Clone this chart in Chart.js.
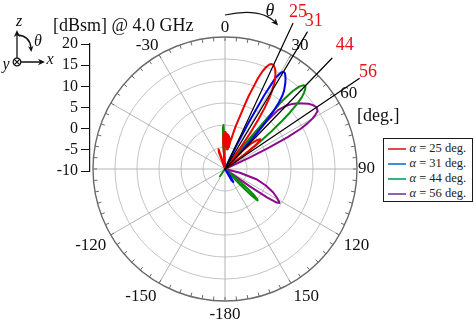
<!DOCTYPE html>
<html>
<head>
<meta charset="utf-8">
<title>Monostatic RCS pattern</title>
<script src="https://cdn.jsdelivr.net/npm/chart.js@4.4.1/dist/chart.umd.min.js"></script>
<style>
  body { margin: 0; background: #fff; }
  #wrap { position: relative; width: 474px; height: 325px; overflow: hidden; }
  #polar { position: absolute; left: 0; top: 0; }
  #axis { position: absolute; left: 0; top: 0; pointer-events: none; }
  #legend {
    position: absolute; left: 383px; top: 138px; width: 90px; height: 64px;
    box-sizing: border-box; border: 1.5px solid #1a1a1a; background: #fff;
    padding-top: 2px; font: 12.5px 'Liberation Serif', serif; color: #222;
  }
  #legend .row { height: 15px; line-height: 15px; white-space: nowrap; }
  #legend .swatch {
    display: inline-block; width: 18px; height: 2px; vertical-align: middle;
    margin: 0 4px 0 3.5px;
  }
</style>
</head>
<body>
<div id="wrap">
  <canvas id="polar" width="474" height="325"></canvas>
  <canvas id="axis" width="100" height="200"></canvas>
  <div id="legend"></div>
</div>
<script>
'use strict';

// Angle grid: one category per degree, clockwise from 0 at the top
const angleLabels = [...Array(360).keys()];
const angleTickValues = [0, 30, 60, 90, 120, 150, 180, 210, 240, 330];
const angleTickLabels = ['0', '30', '60', '90', '120', '150', '-180', '-150', '-120', '-30'];

// Radial range [dBsm]
const rcsMin = -10;
const rcsMax = 20;
const rcsStep = 5;

// Incidence angles and where their reference lines end [dBsm scale units]
const alphas = [25, 31, 44, 56];
const alphaLineTops = [26.5, 26.3, 25, 26.8];

// Measured RCS, [theta deg., dBsm]
const rcs25 = [
  [-22, -10], [-20, -6], [-18, -5.3], [-16, -8], [-13, -10],
  [-5, -10], [-4, -4], [-3, -2.2], [-2, -4.5], [-1, -1.8], [0, -4], [1, -1.6], [2, -5],
  [3, -2], [4, -5.5], [5, -2.2], [6, -5], [7, -2.5], [8, -5.5], [9, -3], [10, -5],
  [11, -3.5], [12, -3], [13, -1.5], [14, 0], [15, 1.2], [16, 2.8], [17, 5], [18, 7.5],
  [19, 9.5], [20, 12], [21, 13.8], [22, 15], [23, 15.8], [24, 16.1], [25, 16.1],
  [26, 15.7], [27, 15.2], [28, 14.4], [29, 13.5], [30, 12.3], [31, 10.8], [32, 9],
  [33, 6.5], [34, 3.5], [35, 0], [36, -4], [37, -10],
  [42, -10], [44, -4], [46, -1.5], [48, -0.2], [50, 0.5], [52, -1], [54, -5], [56, -10]
];
const rcs31 = [
  [22, -10], [25, -7], [26, -4], [27, 2], [28, 9], [29, 13.8], [30, 15.2], [31, 15.8],
  [32, 15.7], [33, 15.2], [34, 14.6], [35, 13.9], [36, 13.1], [37, 12.3], [38, 11.2],
  [39, 9.5], [40, 7], [41, 4], [42, 0], [43, -5], [44, -10],
  [140, -10], [144, -8], [147, -6.5], [150, -7], [153, -10]
];
const rcs44 = [
  [-6, -10], [-4, -4], [-3, -0.8], [-2, 0], [-1, -3], [0, -10],
  [36, -10], [38, -5], [39, -1], [40, 10], [41, 13.5], [42, 15.2], [43, 16], [44, 16.3],
  [45, 15.8], [46, 15], [47, 13.8], [48, 11.8], [49, 9.5], [50, 6.5], [51, 3.5],
  [52, 0.5], [53, -3], [55, -10],
  [128, -10], [130, -6], [131, -3], [132, -1], [133, 0], [134, 0.3], [135, -1.5],
  [136, -5], [138, -10],
  [210, -10], [215, -8], [220, -10]
];
const rcs56 = [
  [36, -10], [38, -5], [40, 1.5], [42, 8], [44, 10], [46, 11.3], [48, 12.3], [50, 13.2],
  [52, 14.1], [54, 14.7], [56, 15.1], [58, 14.8], [59, 14], [60, 13], [61, 11.5],
  [62, 9.5], [63, 6], [64, 1], [65, -4], [66, -10],
  [100, -10], [104, -6.5], [108, -2.5], [112, 0], [116, 2.2], [119, 3.5], [121, 4.3],
  [122, 4.6], [123, 4], [124, 1.5], [125, -3], [126, -10]
];

const lobeSeries = [rcs25, rcs31, rcs44, rcs56];
const lobeColors = ['#f00000', '#0000ee', '#0a8a0a', '#8c0a8c'];
const legendSwatchColors = ['#e8454c', '#3f8fd8', '#38b27e', '#8a66b2'];

const SERIF = "'Liberation Serif', 'Times New Roman', serif";

// Spread [deg, dB] pairs over the one-degree categories
function toPolarData(pairs) {
    const data = new Array(angleLabels.length).fill(null);
    pairs.forEach(([deg, db]) => {
        data[(deg + 360) % 360] = db;
    });
    return data;
}

function arrowHead(ctx, x, y, angle, size) {
    ctx.save();
    ctx.translate(x, y);
    ctx.rotate(angle);
    ctx.beginPath();
    ctx.moveTo(0, 0);
    ctx.lineTo(-size, -size * 0.45);
    ctx.lineTo(-size * 0.7, 0);
    ctx.lineTo(-size, size * 0.45);
    ctx.closePath();
    ctx.fill();
    ctx.restore();
}

// Short ticks every 5 deg. on the outer ring
const ringTicks = {
    id: 'ringTicks',
    beforeDatasetsDraw(chart) {
        const r = chart.scales.r;
        const ctx = chart.ctx;
        ctx.save();
        ctx.strokeStyle = '#6a6a6a';
        ctx.lineWidth = 1;
        ctx.beginPath();
        for (let i = 0; i < angleLabels.length; i += 5) {
            const a = r.getPointPosition(i, r.drawingArea);
            const b = r.getPointPosition(i, r.drawingArea - 4);
            ctx.moveTo(a.x, a.y);
            ctx.lineTo(b.x, b.y);
        }
        ctx.stroke();
        ctx.restore();
    }
};

// Units, angle markers and the coordinate sketch
const annotations = {
    id: 'annotations',
    afterDraw(chart) {
        const r = chart.scales.r;
        const ctx = chart.ctx;
        ctx.save();

        ctx.fillStyle = '#e8101a';
        ctx.font = `18px ${SERIF}`;
        ctx.textAlign = 'center';
        ctx.textBaseline = 'middle';
        alphas.forEach(a => {
            const p = r.getPointPositionForValue(a, 29.2);
            ctx.fillText(String(a), p.x, p.y);
        });

        ctx.fillStyle = '#111';
        ctx.textAlign = 'left';
        ctx.textBaseline = 'alphabetic';
        ctx.fillText('[dBsm] @ 4.0 GHz', 53, 31);
        ctx.fillText('[deg.]', 357, 121);

        // theta direction arrow over the top of the plot
        ctx.font = `italic 18px ${SERIF}`;
        ctx.textAlign = 'center';
        ctx.fillText('θ', 270, 16);
        ctx.strokeStyle = '#111';
        ctx.lineWidth = 1.2;
        ctx.beginPath();
        ctx.moveTo(225, 15);
        ctx.quadraticCurveTo(262, 7, 277, 24);
        ctx.stroke();
        arrowHead(ctx, 278, 25.5, Math.atan2(17, 15), 7);

        // coordinate sketch: z up, x right, y into the page
        const ox = 17, oy = 62;
        ctx.lineWidth = 1.3;
        ctx.beginPath();
        ctx.moveTo(ox, oy - 4);
        ctx.lineTo(ox, 35);
        ctx.moveTo(ox + 4, oy);
        ctx.lineTo(40, oy);
        ctx.stroke();
        arrowHead(ctx, ox, 30, -Math.PI / 2, 7);
        arrowHead(ctx, 45, oy, 0, 7);
        ctx.beginPath();
        ctx.arc(ox, oy, 3.8, 0, Math.PI * 2);
        ctx.moveTo(ox - 2.6, oy - 2.6);
        ctx.lineTo(ox + 2.6, oy + 2.6);
        ctx.moveTo(ox + 2.6, oy - 2.6);
        ctx.lineTo(ox - 2.6, oy + 2.6);
        ctx.stroke();
        ctx.beginPath();
        ctx.moveTo(18, 35);
        ctx.quadraticCurveTo(30, 36, 31, 48);
        ctx.stroke();
        arrowHead(ctx, 31.3, 52, Math.PI / 2 - 0.1, 6);

        ctx.font = `italic 16px ${SERIF}`;
        ctx.textBaseline = 'middle';
        ctx.fillText('z', 19, 22);
        ctx.fillText('x', 50, 60);
        ctx.fillText('y', 6, 65);
        ctx.fillText('θ', 38, 42);

        ctx.restore();
    }
};

const RcsPolar = {
    config: {
        selectors: {
            polar: 'polar',
            axis: 'axis',
            legend: 'legend'
        }
    },

    init() {
        this.drawPolar();
        this.drawDbAxis();
        this.buildLegend();
    },

    buildDatasets() {
        const datasets = lobeSeries.map((pairs, i) => ({
            label: `α = ${alphas[i]} deg.`,
            data: toPolarData(pairs),
            borderColor: lobeColors[i],
            borderWidth: 2,
            order: 1
        }));

        // reference lines from the centre out past the rim
        alphas.forEach((a, i) => {
            const data = new Array(angleLabels.length).fill(null);
            data[0] = rcsMin;
            data[a] = alphaLineTops[i];
            datasets.push({
                label: `alpha ${a}`,
                data: data,
                borderColor: '#000',
                borderWidth: 1.2,
                order: 0
            });
        });
        return datasets;
    },

    drawPolar() {
        const canvas = document.getElementById(this.config.selectors.polar);
        this.chart = new Chart(canvas, {
            type: 'radar',
            data: {
                labels: angleLabels,
                datasets: this.buildDatasets()
            },
            options: {
                responsive: false,
                animation: false,
                events: [],
                spanGaps: true,
                layout: { padding: { left: 40, top: 17, right: 64, bottom: -4 } },
                elements: {
                    line: { fill: false, tension: 0, borderJoinStyle: 'round' },
                    point: { radius: 0, hoverRadius: 0, hitRadius: 0 }
                },
                plugins: {
                    legend: { display: false },
                    tooltip: { enabled: false }
                },
                scales: {
                    r: {
                        min: rcsMin,
                        max: rcsMax,
                        beginAtZero: false,
                        ticks: { display: false, stepSize: rcsStep },
                        grid: {
                            circular: true,
                            color: ctx => (ctx.tick && ctx.tick.value === rcsMax ? '#6a6a6a' : '#c4c4c4'),
                            lineWidth: ctx => (ctx.tick && ctx.tick.value === rcsMax ? 1.4 : 1)
                        },
                        angleLines: {
                            color: ctx => (ctx.index % 30 === 0 ? '#b4b4b4' : 'rgba(0,0,0,0)'),
                            lineWidth: ctx => (ctx.index % 30 === 0 ? 1 : 0)
                        },
                        pointLabels: {
                            color: '#111',
                            font: { family: SERIF, size: 17, lineHeight: 1 },
                            padding: ctx => (ctx.index > 90 && ctx.index < 270 ? 5 : 1),
                            callback: (label, index) => {
                                const k = angleTickValues.indexOf(index);
                                return k >= 0 ? angleTickLabels[k] : '';
                            }
                        }
                    }
                }
            },
            plugins: [ringTicks, annotations]
        });
    },

    // Separate dBsm scale on the left of the plot
    drawDbAxis() {
        const canvas = document.getElementById(this.config.selectors.axis);
        new Chart(canvas, {
            type: 'scatter',
            data: { datasets: [] },
            options: {
                responsive: false,
                animation: false,
                events: [],
                layout: { padding: { top: 44, bottom: 29, left: 0, right: 0 } },
                plugins: {
                    legend: { display: false },
                    tooltip: { enabled: false }
                },
                scales: {
                    x: { display: false },
                    y: {
                        position: 'left',
                        min: rcsMin,
                        max: rcsMax,
                        afterFit: scale => { scale.width = 90; },
                        ticks: {
                            stepSize: rcsStep,
                            autoSkip: false,
                            padding: 3,
                            color: '#111',
                            font: { family: SERIF, size: 16 }
                        },
                        grid: {
                            drawOnChartArea: false,
                            tickLength: 9,
                            color: '#111'
                        },
                        border: { color: '#111', width: 1.2 }
                    }
                }
            }
        });
    },

    buildLegend() {
        const el = document.getElementById(this.config.selectors.legend);
        el.innerHTML = alphas.map((a, i) =>
            `<div class="row"><span class="swatch" style="background:${legendSwatchColors[i]}"></span>` +
            `<i>α</i> = ${a} deg.</div>`
        ).join('');
    }
};

document.addEventListener('DOMContentLoaded', () => {
    RcsPolar.init();
});
</script>
</body>
</html>
